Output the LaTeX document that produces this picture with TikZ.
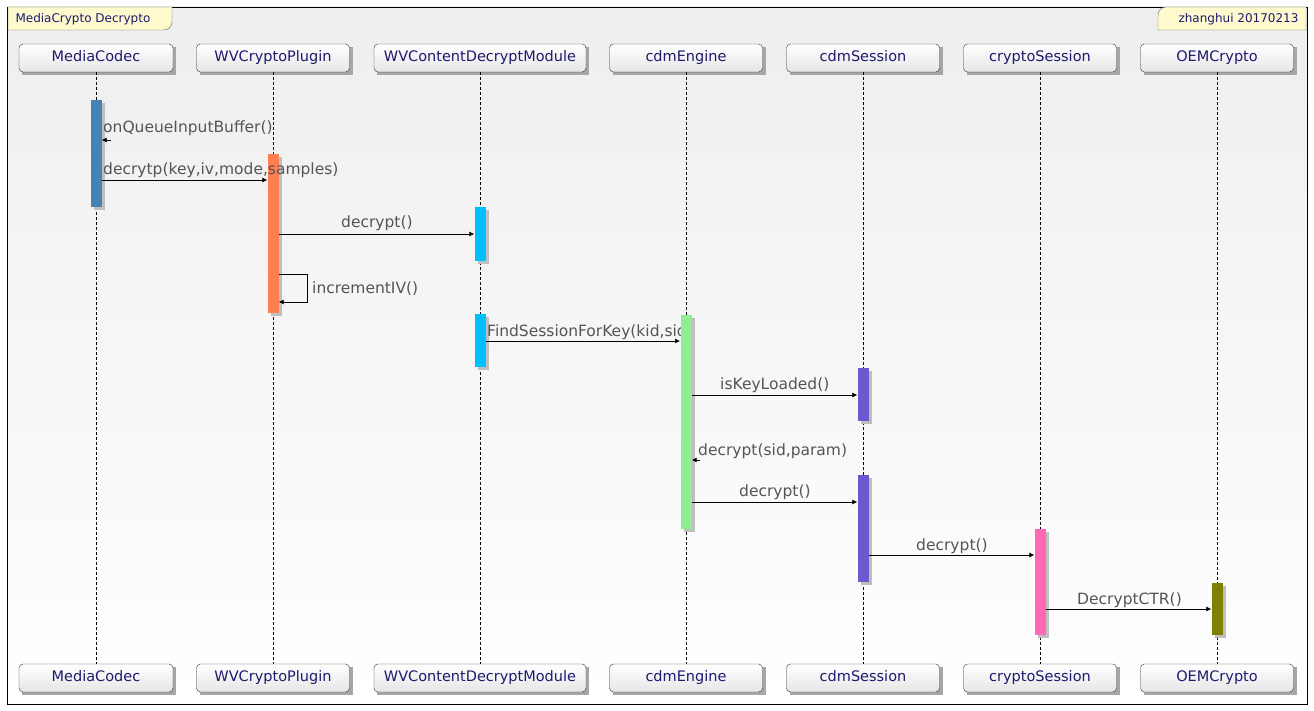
\documentclass[tikz,border=0pt]{standalone}
\usepackage{fontspec}
\setmainfont{DejaVu Sans}
\usetikzlibrary{arrows.meta}
\definecolor{navy}{HTML}{1E1A6E}
\definecolor{msg}{HTML}{555555}
\definecolor{bgtop}{HTML}{EEEEEE}
\definecolor{bgbot}{HTML}{FFFFFF}
\definecolor{tab}{HTML}{FEFACE}
\definecolor{cBlue}{HTML}{4682B4}
\definecolor{cOrange}{HTML}{FF7F50}
\definecolor{cCyan}{HTML}{00BFFF}
\definecolor{cGreen}{HTML}{90EE90}
\definecolor{cPurple}{HTML}{6A5ACD}
\definecolor{cPink}{HTML}{FF69B4}
\definecolor{cOlive}{HTML}{808000}
\begin{document}
\begin{tikzpicture}[x=1pt,y=-1pt,
  part/.style={draw=black!80,rounded corners=4pt,top color=white,bottom color=black!10,minimum height=28pt,font=\fontsize{14.5}{16}\selectfont,text=navy,inner sep=0pt,text height=10.5pt,text depth=3pt},
  life/.style={densely dashed,line width=0.6pt},
  act/.style={draw=none,inner sep=0pt,minimum width=11pt},
  call/.style={-{Latex[length=5pt,width=5pt]},line width=0.7pt},
  lbl/.style={font=\fontsize{15.5}{17}\selectfont,text=msg,inner sep=0pt,anchor=base west}]
\useasboundingbox (0,0) rectangle (1314,711);
\fill[white] (0,0) rectangle (1314,711);
\shade[top color=bgtop,bottom color=bgbot] (7,7) rectangle (1307,704);
\draw[line width=0.8pt] (7,7) rectangle (1307,704);
% tabs
\draw[fill=tab,draw=black!60] (8,7) -- (172,7) [rounded corners=8pt] -- (172,30) [sharp corners] -- (8,30) -- cycle;
\node[font=\fontsize{12}{14}\selectfont,text=navy,anchor=west] (title) at (12,19) {MediaCrypto Decrypto};
\draw[fill=tab,draw=black!60] (1306,7) -- (1306,30) -- (1158,30) [rounded corners=8pt] -- (1158,7) [sharp corners] -- cycle;
\node[font=\fontsize{12}{14}\selectfont,text=navy,anchor=east] (author) at (1302,19) {zhanghui 20170213};
% participants
\foreach \n/\t/\cx/\w in {mc/MediaCodec/96/154, wp/WVCryptoPlugin/273/153, wd/WVContentDecryptModule/480/212, ce/cdmEngine/686/153, cs/cdmSession/863/153, cr/cryptoSession/1040/153, oe/OEMCrypto/1217/153}{
  \fill[black!35] (\cx-\w/2+3,47) rectangle (\cx+\w/2+3,75);
  \node[part,minimum width=\w pt] (\n t) at (\cx,58) {\t};
  \fill[black!35] (\cx-\w/2+3,667) rectangle (\cx+\w/2+3,695);
  \node[part,minimum width=\w pt] (\n b) at (\cx,678) {\t};
  \draw[life] (\n t.south) -- (\n b.north);
}
% activations
\newcommand{\actbar}[5]{\fill[black!25] (#2-5.5+3,#3+3) rectangle (#2+5.5+3,#4+3);\node[act,fill=#5,minimum height=#4-#3] (#1) at (#2,{(#3+#4)/2}) {};}
\actbar{a1}{96}{100}{207}{cBlue}
\actbar{a2}{273}{154}{313}{cOrange}
\actbar{a3}{480}{207}{261}{cCyan}
\actbar{a4}{480}{314}{367}{cCyan}
\actbar{a6}{863}{368}{421}{cPurple}
\actbar{a7}{863}{475}{582}{cPurple}
\actbar{a8}{1040}{529}{635}{cPink}
\actbar{a9}{1217}{583}{635}{cOlive}
% messages
\node[lbl] (l1) at (103,133) {onQueueInputBuffer()};
\coordinate (s1) at (111,140);
\draw[call] (s1) -- (a1.east |- s1);
\draw[call] (a1.east |- 0,180) -- (a2.west |- 0,180);
\node[lbl] (l2) at (103,175) {decrytp(key,iv,mode,samples)};
\draw[call] (a2.east |- 0,234) -- (a3.west |- 0,234);
\node[lbl] (l3) at (341,228) {decrypt()};
\coordinate (k1) at (307,274); \coordinate (k2) at (307,302);
\draw[call] (a2.east |- k1) -- (k1) -- (k2) -- (a2.east |- k2);
\node[lbl] (l4) at (312,294) {incrementIV()};
\draw[call] (a4.east |- 0,341) -- (680,341);
\node[lbl] (l5) at (487,336) {FindSessionForKey(kid,sid)};
\actbar{a5}{686}{315}{529}{cGreen}
\draw[call] (a5.east |- 0,395) -- (a6.west |- 0,395);
\node[lbl] (l6) at (720,389) {isKeyLoaded()};
\coordinate (s2) at (700,460);
\draw[call] (s2) -- (a5.east |- s2);
\node[lbl] (l7) at (698,455) {decrypt(sid,param)};
\draw[call] (a5.east |- 0,502) -- (a7.west |- 0,502);
\node[lbl] (l8) at (739,496) {decrypt()};
\draw[call] (a7.east |- 0,555) -- (a8.west |- 0,555);
\node[lbl] (l9) at (916,550) {decrypt()};
\draw[call] (a8.east |- 0,609) -- (a9.west |- 0,609);
\node[lbl] (l10) at (1077,604) {DecryptCTR()};
\end{tikzpicture}
\end{document}
